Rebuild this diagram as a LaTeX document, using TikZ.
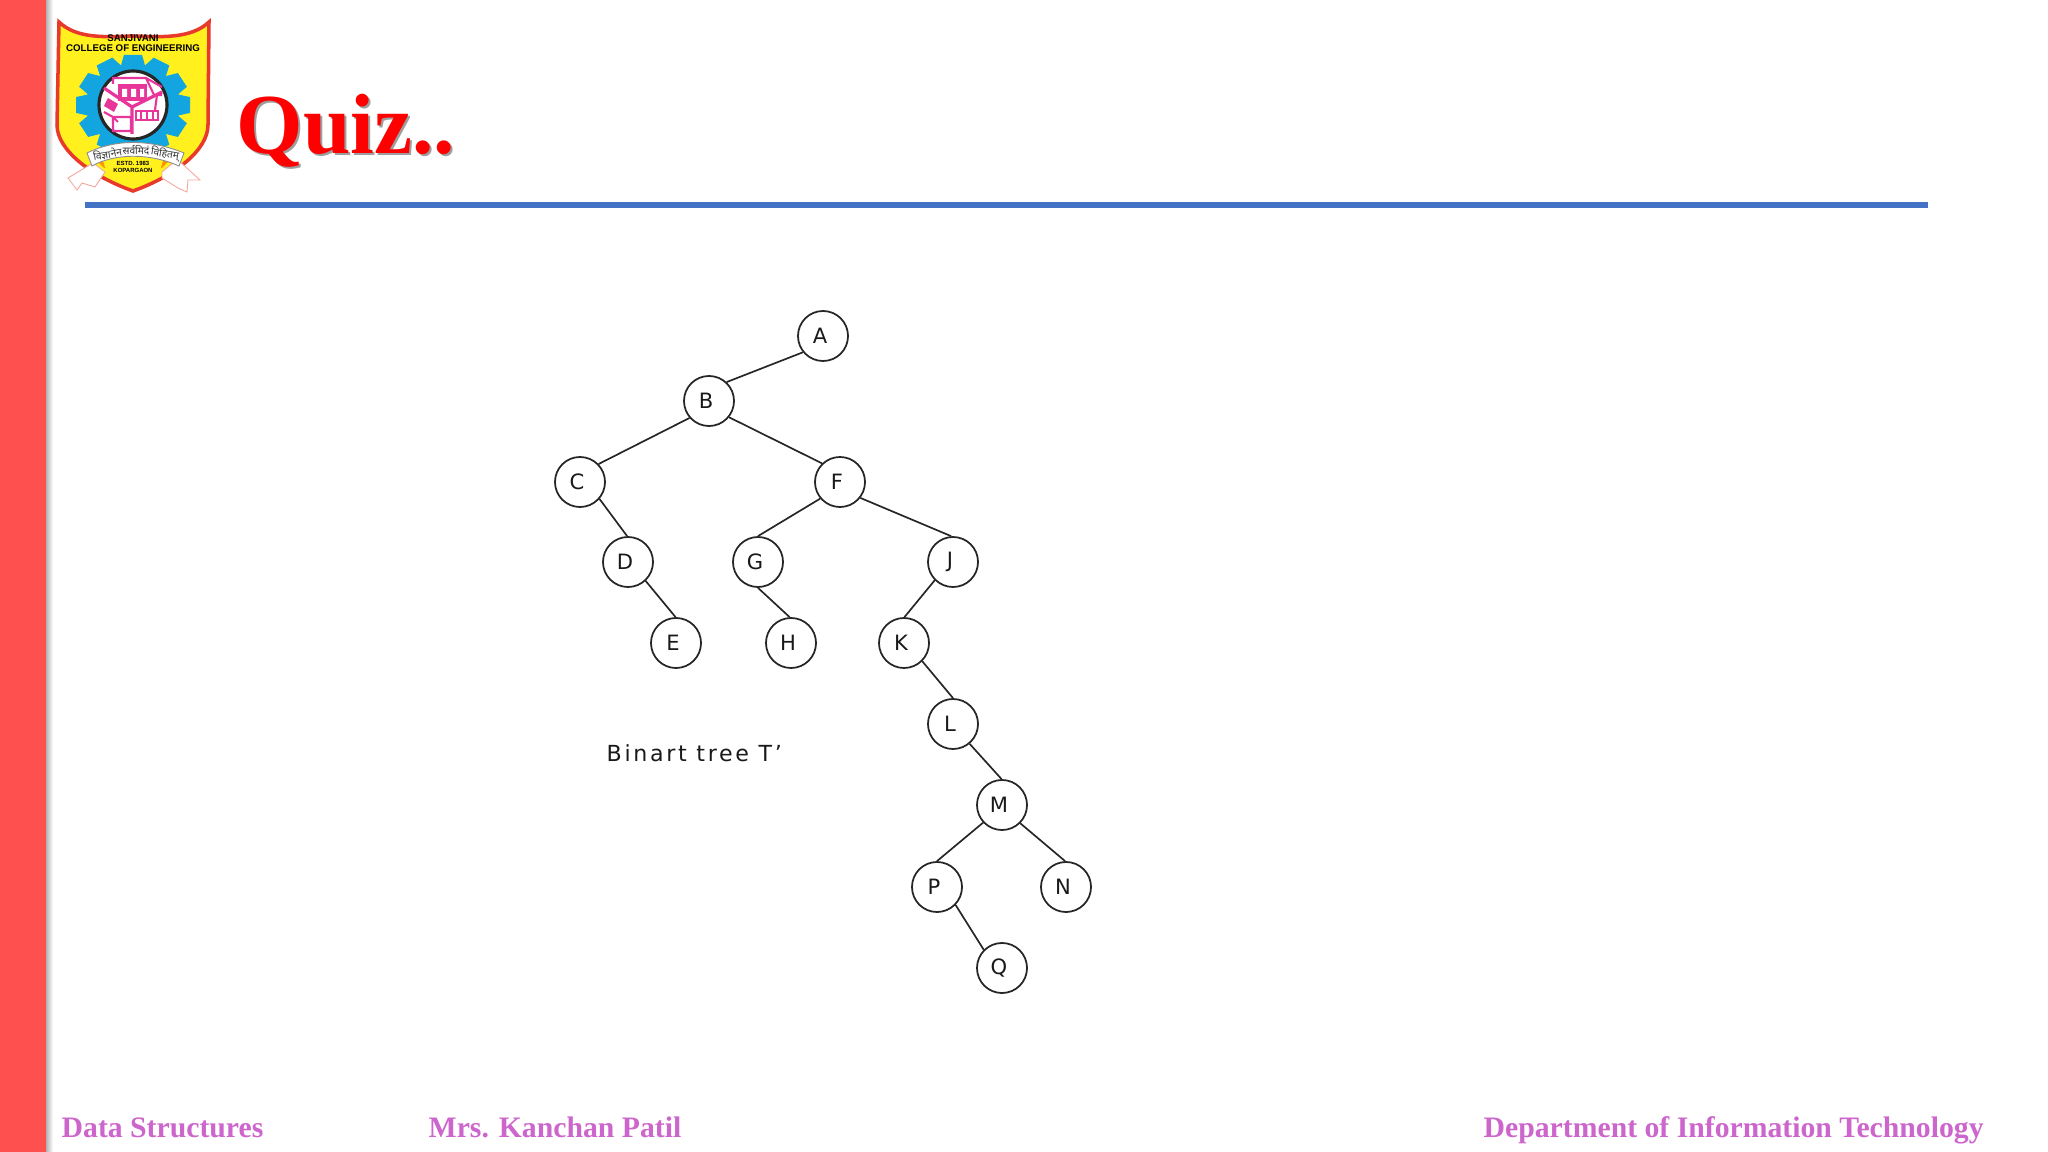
\documentclass[tikz,border=0pt]{standalone}
\usepackage{fontspec}
\setmainfont{Liberation Serif}
\newfontfamily\arialfont{Liberation Sans}
\newfontfamily\cellfont{DejaVu Sans}
\newfontfamily\captionfont[LetterSpace=12]{DejaVu Sans}
\newfontfamily\devafont[Script=Devanagari]{Noto Sans}
\definecolor{barred}{HTML}{FF5050}
\definecolor{ruleblue}{HTML}{4472C4}
\definecolor{footpink}{HTML}{CC66CC}
\definecolor{shieldred}{HTML}{E8392B}
\definecolor{shieldyellow}{HTML}{FFF01E}
\definecolor{gearblue}{HTML}{12A5DF}
\definecolor{artpink}{HTML}{E8359A}
\begin{document}
\begin{tikzpicture}[
        x=0.01cm, y=-0.01cm,
        cell/.style={circle, draw=black!85, line width=0.5pt, minimum size=0.5cm, inner sep=0pt,
            font=\cellfont\fontsize{6}{7}\selectfont, text=black!90, execute at begin node=\kern-1.7pt}, % tree nodes
        kant/.style={draw=black!85, line width=0.48pt}, % tree edges
        foot/.style={anchor=base west, inner sep=0pt, text=footpink, font=\bfseries\fontsize{8.45}{10}\selectfont},
        quiz/.style={anchor=base west, inner sep=0pt, font=\bfseries\fontsize{24.3}{28}\selectfont},
        crest/.style={inner sep=0pt, font=\arialfont\bfseries\fontsize{2.76}{3}\selectfont},
        small crest/.style={inner sep=0pt, font=\arialfont\bfseries\fontsize{1.7}{2}\selectfont},
        motto/.style={inner sep=0pt, font=\devafont\fontsize{2.9}{3.5}\selectfont, text=black!80},
        tail/.style={fill=white, draw=shieldred!45, line width=0.25pt},
        art/.style={draw=artpink, line width=0.6pt},
    ]
    \useasboundingbox (0,0) rectangle (2048,1152);

    % side bar and rule
    \shade[left color=black!30, right color=white] (46,0) rectangle (53,1152);
    \fill[barred] (0,0) rectangle (46,1152);
    \fill[ruleblue] (85,202) rectangle (1928,208);

    % crest
    \fill[shieldyellow, draw=shieldred, line width=1pt] (59,22) .. controls (77,39) and (105,37) .. (133,36)
        .. controls (161,37) and (191,39) .. (209,22) -- (208,125)
        .. controls (208,150) and (175,176) .. (133,191)
        .. controls (91,176) and (57,150) .. (57,125) -- cycle;
    \begin{scope}[shift={(133,105)}, yscale=0.88]
        \fill[gearblue] (0,0) circle (47);
        \foreach \a in {0,30,...,330}
            \fill[gearblue, rotate=\a] (-9,-57) -- (9,-57) -- (13,-41) -- (-13,-41) -- cycle;
    \end{scope}
    \fill[white, draw=black!85, line width=0.9pt] (133,105) circle (34);
    \draw[art, line width=0.9pt] (132,107) -- (104,88) (132,107) -- (162,92) (132,107) -- (132,134);
    \fill[artpink] (118,84) rectangle (147,101);
    \fill[white] (122,89) rectangle (127,97) (131,89) rectangle (136,97) (140,89) rectangle (144,97);
    \draw[art] (113,84) -- (113,78) -- (146,78) -- (162,87) (146,78) -- (155,97);
    \draw[art] (136,120) rectangle (158,111) (141,120) -- (141,111) (147,120) -- (147,111) (153,120) -- (153,111);
    \draw[art] (155,110) -- (157,95) -- (162,95);
    \fill[artpink] (108,98) -- (118,104) -- (114,112) -- (104,106) -- cycle;
    \draw[art] (113,117) rectangle (131,131) (104,112) -- (113,117) -- (118,122);
    \node[crest] (sanjivani) at (133,38.5) {SANJIVANI};
    \node[crest] (college) at (133,48) {COLLEGE OF ENGINEERING};

    % ribbon
    \fill[orange!85!yellow] (96,160) .. controls (120,152) and (146,152) .. (170,160) -- (162,168) -- (104,168) -- cycle;
    \fill[shieldyellow] (102,158) .. controls (120,154) and (146,154) .. (164,158) -- (158,176) -- (108,176) -- cycle;
    \draw[tail] (93,163) -- (68,178) -- (77,190) -- (82,183) -- (95,187) -- (105,172) -- cycle;
    \draw[tail] (173,163) -- (162,172) -- (162,178) -- (178,188) -- (187,192) -- (188,180) -- (200,180) -- (178,160) -- cycle;
    \draw[tail, draw=black!45] (87,153) .. controls (115,139) and (150,139) .. (184,153)
        -- (179,166) .. controls (150,153) and (115,153) .. (92,166) -- cycle;
    \node[motto, rotate=10] (motto1) at (107.5,154) {विज्ञानेन};
    \node[motto] (motto2) at (136,150.5) {सर्वमिदं};
    \node[motto, rotate=-10] (motto3) at (165,154) {विहितम्};
    \node[small crest] (estd) at (133,163) {ESTD. 1983};
    \node[small crest] (kopargaon) at (133,170) {KOPARGAON};

    % title with its shadow
    \node[quiz, text=black!38] (quizshadow) at (238,155.5) {Quiz..};
    \node[quiz, text=red] (quiz) at (236,153.5) {Quiz..};

    % tree
    \node[cell] (a) at (823,336) {A};
    \node[cell] (b) at (709,401) {B};
    \node[cell] (c) at (580,482) {C};
    \node[cell] (f) at (840,482) {F};
    \node[cell] (d) at (628,562) {D};
    \node[cell] (g) at (758,562) {G};
    \node[cell] (j) at (953,562) {J};
    \node[cell] (e) at (676,643) {E};
    \node[cell] (h) at (791,643) {H};
    \node[cell] (k) at (904,643) {K};
    \node[cell] (l) at (953,724) {L};
    \node[cell] (m) at (1002,805) {M};
    \node[cell] (p) at (937,887) {P};
    \node[cell] (n) at (1066,887) {N};
    \node[cell] (q) at (1002,968) {Q};

    \draw[kant] (a.219) -- (b.47);
    \draw[kant] (b.221) -- (c.44);
    \draw[kant] (b.321) -- (f.134);
    \draw[kant] (c.319) -- (d.92);
    \draw[kant] (d.313) -- (e.91);
    \draw[kant] (f.220) -- (g.90);
    \draw[kant] (f.322) -- (j.94);
    \draw[kant] (g.270) -- (h.93);
    \draw[kant] (j.225) -- (k.89);
    \draw[kant] (k.315) -- (l.90);
    \draw[kant] (l.310) -- (m.91);
    \draw[kant] (m.223) -- (p.90);
    \draw[kant] (m.315) -- (n.92);
    \draw[kant] (p.316) -- (q.135);

    \node[anchor=base west, inner sep=0pt, text=black!90, font=\captionfont\fontsize{6.3}{7}\selectfont] (caption) at (606,761) {Binart tree T’};

    % footer
    \node[foot] (subject) at (61,1137) {Data Structures};
    \node[foot] (teacher) at (428,1137) {Mrs. Kanchan Patil};
    \node[foot] (dept) at (1483,1137) {Department of Information Technology};
\end{tikzpicture}
\end{document}
